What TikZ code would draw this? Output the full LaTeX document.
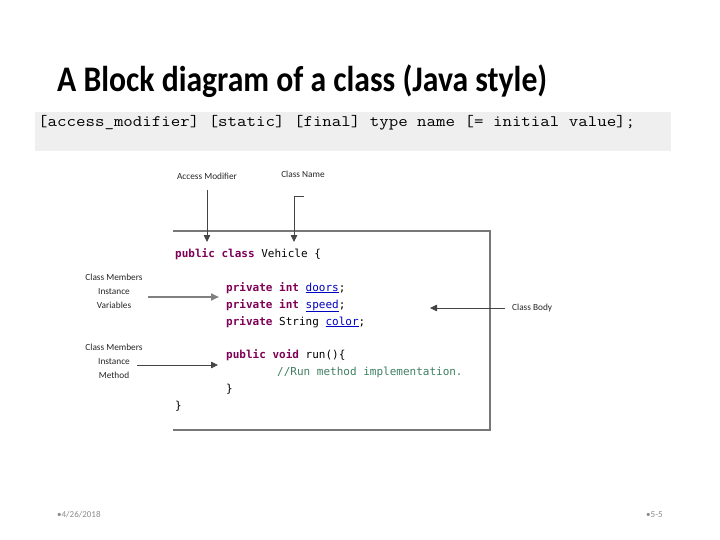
\documentclass[tikz,border=0pt]{standalone}
\usepackage{fontspec}
\setmainfont{Carlito}
\newfontfamily\codefont{DejaVu Sans Mono}
\usetikzlibrary{arrows.meta}
\definecolor{kwc}{HTML}{7F0055}
\definecolor{cmc}{HTML}{3F7F5F}
\definecolor{fldc}{HTML}{0000C0}
\definecolor{boxl}{HTML}{777777}
\definecolor{synbg}{HTML}{EFEFEF}
\definecolor{footc}{HTML}{8A8A8A}
\definecolor{arrc}{HTML}{444444}
\begin{document}
\begin{tikzpicture}[x=1pt,y=-1pt,
  code/.style={anchor=base west,inner sep=0pt,font=\codefont\fontsize{11}{13}\selectfont},
  annot/.style={inner sep=0pt,font=\fontsize{9.3}{14}\selectfont,align=center,text=black!85},
  arr/.style={-{Triangle[length=7pt,width=6.5pt]},draw=arrc,line width=0.8pt},
  grayarr/.style={-{Triangle[length=8pt,width=7pt]},draw=black!50,line width=2.6pt},
  boxline/.style={draw=boxl,line width=1.1pt},
  foot/.style={anchor=west,inner sep=0pt,text=footc,font=\fontsize{9}{10}\selectfont}]
\useasboundingbox (0,0) rectangle (720,540);
% title
\node[anchor=base west,inner sep=0pt,font=\bfseries\fontsize{36}{40}\selectfont] (title) at (57,92) {\scalebox{0.88}[1]{A Block diagram of a class (Java style)}};
% syntax box
\fill[synbg] (35,112) rectangle (671,151);
\node[anchor=base west,inner sep=0pt,font=\ttfamily\fontsize{16}{18}\selectfont] (syntax) at (38,127) {\scalebox{1.15}[1]{[access\_modifier] [static] [final] type name [= initial value];}};
% code box
\draw[boxline] (173,231) -- (490,231) -- (490,430) -- (173,430);
\node[code] (l1) at (175,257) {{\bfseries\color{kwc}public class} Vehicle \{};
\node[code] (l2) at (226,291) {{\bfseries\color{kwc}private int} {\color{fldc}\underline{doors}};};
\node[code] (l3) at (226,308) {{\bfseries\color{kwc}private int} {\color{fldc}\underline{speed}};};
\node[code] (l4) at (226,325) {{\bfseries\color{kwc}private} String {\color{fldc}\underline{color}};};
\node[code] (l5) at (226,358) {{\bfseries\color{kwc}public void} run()\{};
\node[code] (l6) at (277,375) {\color{cmc}//Run method implementation.};
\node[code] (l7) at (226,392) {\}};
\node[code] (l8) at (175,409) {\}};
% annotations
\node[annot] (am) at (207,176) {Access Modifier};
\node[annot] (cn) at (303,174) {Class Name};
\node[annot] (cmv) at (114,291) {Class Members\\Instance\\Variables};
\node[annot] (cmm) at (114,361) {Class Members\\Instance\\Method};
\node[annot,anchor=west] (cb) at (512,308) {Class Body};
\coordinate (amS) at (207,190);
\coordinate (amE) at (207,242);
\coordinate (cnS) at (304,196);
\coordinate (cnK) at (294,196);
\coordinate (cnE) at (294,242);
\coordinate (cmvS) at (148,297);
\coordinate (cmvE) at (219,297);
\coordinate (cmmS) at (137,365);
\coordinate (cmmE) at (218,365);
\coordinate (cbS) at (505,308);
\coordinate (cbE) at (430,308);
\draw[arr] (amS) -- (amE);
\draw[arr] (cnS) -- (cnK) -- (cnE);
\draw[grayarr] (cmvS) -- (cmvE);
\draw[arr] (cmmS) -- (cmmE);
\draw[arr] (cbS) -- (cbE);
% footer
\node[foot] (date) at (57,515) {•4/26/2018};
\node[foot] (page) at (646,515) {•5-5};
\end{tikzpicture}
\end{document}
